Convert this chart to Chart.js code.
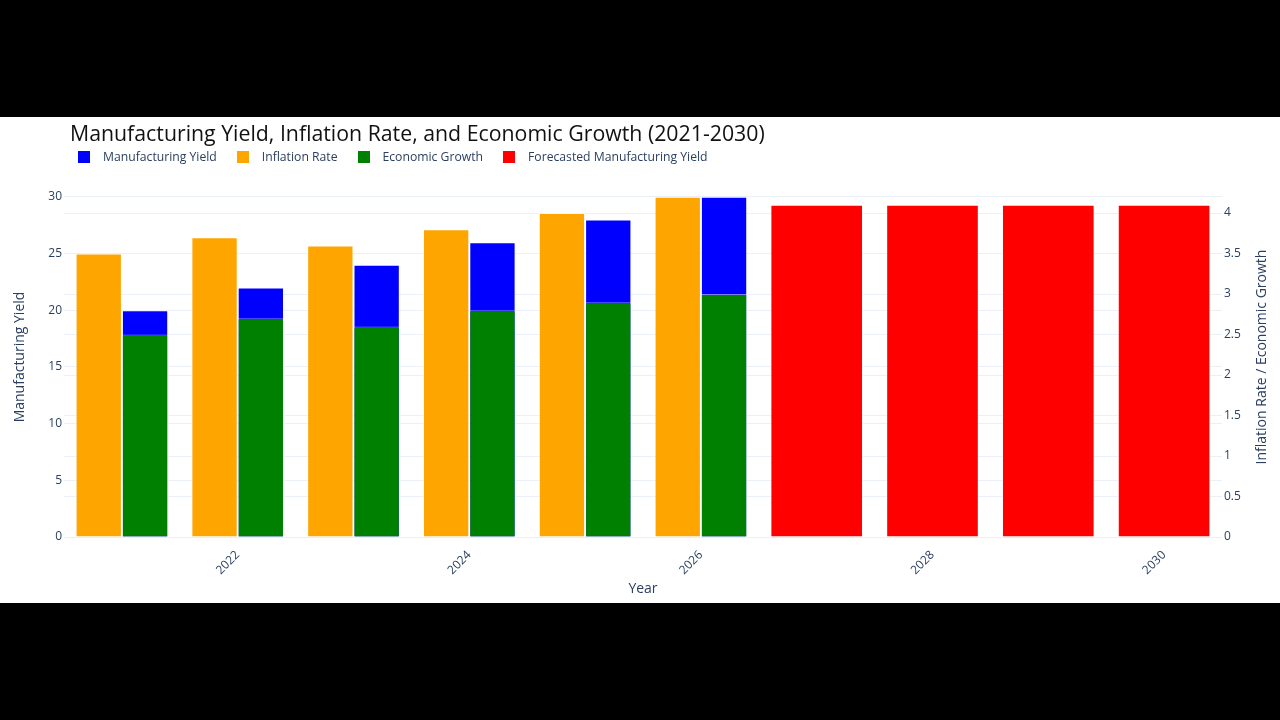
<!DOCTYPE html>
<html>
<head>
<meta charset="utf-8">
<script src="https://cdn.jsdelivr.net/npm/chart.js@4"></script>
<style>
  body { margin: 0; background: #000; width: 1280px; height: 720px; overflow: hidden; font-family: "Open Sans", sans-serif; }
  #panel { position: absolute; left: 0; top: 117px; width: 1280px; height: 486px; background: #fff; }
  #chart { position: absolute; left: 0; top: 0; }
  #title { position: absolute; left: 70px; top: 3px; font-size: 21.3px; line-height: 26px; color: #111; white-space: nowrap; }
  #legend { position: absolute; left: 78px; top: 32px; display: flex; font-size: 12.2px; line-height: 16px; color: #2a3f5f; white-space: nowrap; }
  .item { display: flex; align-items: center; margin-right: 20px; }
  .box { width: 12px; height: 12px; margin-right: 13px; }
</style>
</head>
<body>
<div id="panel">
  <canvas id="chart" width="1280" height="486"></canvas>
  <div id="title">Manufacturing Yield, Inflation Rate, and Economic Growth (2021-2030)</div>
  <div id="legend"></div>
</div>
<script>
var years = ['2021', '2022', '2023', '2024', '2025', '2026', '2027', '2028', '2029', '2030'];
var manufacturingYield = [20, 22, 24, 26, 28, 30, null, null, null, null];
var inflationRate = [3.5, 3.7, 3.6, 3.8, 4.0, 4.2, null, null, null, null];
var economicGrowth = [2.5, 2.7, 2.6, 2.8, 2.9, 3.0, null, null, null, null];
var forecastYield = [null, null, null, null, null, null, 29.3, 29.3, 29.3, 29.3];

// axis ranges (autorange in the original leaves a little headroom above the tallest bar)
var leftMax = 31.75;
var rightMax = 4.445;

var seriesNames = ['Manufacturing Yield', 'Inflation Rate', 'Economic Growth', 'Forecasted Manufacturing Yield'];
var seriesColors = ['blue', 'orange', 'green', 'red'];

var leftTitle = 'Manufacturing Yield';
var rightTitle = 'Inflation Rate / Economic Growth';
var xTitle = 'Year';

var textColor = '#2a3f5f';
var gridColor = '#ebf0f8';

// legend (same order as the original)
var legend = document.getElementById('legend');
for (var i = 0; i < seriesNames.length; i++) {
    var item = document.createElement('div');
    item.className = 'item';
    item.innerHTML = '<span class="box" style="background:' + seriesColors[i] + '"></span><span>' + seriesNames[i] + '</span>';
    legend.appendChild(item);
}

// right axis title reads bottom-to-top like the left one
var rightTitlePlugin = {
    id: 'rightTitle',
    afterDraw: function(chart) {
        var ctx = chart.ctx;
        var area = chart.chartArea;
        ctx.save();
        ctx.translate(chart.scales.y1.right - 18, (area.top + area.bottom) / 2);
        ctx.rotate(-Math.PI / 2);
        ctx.font = '14px "Open Sans"';
        ctx.fillStyle = textColor;
        ctx.textAlign = 'center';
        ctx.textBaseline = 'middle';
        ctx.fillText(rightTitle, 0, 0);
        ctx.restore();
    }
};

var barBorder = 'rgba(255,255,255,0.5)';
var tickFont = { family: 'Open Sans', size: 12 };
var titleFont = { family: 'Open Sans', size: 14 };

var ctx = document.getElementById('chart').getContext('2d');
var myChart = new Chart(ctx, {
    type: 'bar',
    data: {
        labels: years,
        datasets: [{
            label: seriesNames[0],
            data: manufacturingYield,
            backgroundColor: seriesColors[0],
            yAxisID: 'y',
            stack: 'b',
            order: 2
        }, {
            label: seriesNames[1],
            data: inflationRate,
            backgroundColor: seriesColors[1],
            yAxisID: 'y1',
            stack: 'a',
            order: 0
        }, {
            label: seriesNames[2],
            data: economicGrowth,
            backgroundColor: seriesColors[2],
            yAxisID: 'y1',
            stack: 'b',
            order: 1
        }, {
            label: seriesNames[3],
            data: forecastYield,
            backgroundColor: seriesColors[3],
            yAxisID: 'y',
            order: 3
        }]
    },
    options: {
        responsive: false,
        animation: false,
        layout: { padding: { top: 60, left: 0, right: 0, bottom: 0 } },
        datasets: {
            bar: {
                skipNull: true,
                categoryPercentage: 0.8,
                barPercentage: 1,
                borderWidth: 1,
                borderColor: barBorder
            }
        },
        plugins: {
            legend: { display: false },
            title: { display: false },
            tooltip: { enabled: false }
        },
        scales: {
            x: {
                grid: { display: false },
                border: { display: false },
                ticks: {
                    autoSkip: false,
                    minRotation: 45,
                    maxRotation: 45,
                    color: textColor,
                    font: tickFont,
                    callback: function(value, index) {
                        return Number(years[index]) % 2 === 0 ? years[index] : '';
                    }
                },
                title: { display: true, text: xTitle, color: textColor, font: titleFont, padding: { top: 0, bottom: 6 } },
                afterFit: function(scale) { scale.height = 66; }
            },
            y: {
                position: 'left',
                min: 0,
                max: leftMax,
                ticks: { stepSize: 5, includeBounds: false, padding: 2, color: textColor, font: tickFont },
                grid: { color: gridColor, drawTicks: false },
                border: { display: false },
                title: { display: true, text: leftTitle, color: textColor, font: titleFont, padding: { top: 12, bottom: 0 } },
                afterFit: function(scale) { scale.width = 64; }
            },
            y1: {
                position: 'right',
                min: 0,
                max: rightMax,
                ticks: {
                    stepSize: 0.5,
                    includeBounds: false,
                    padding: 2,
                    color: textColor,
                    font: tickFont,
                    callback: function(value) { return String(value); }
                },
                grid: { color: gridColor, drawTicks: false },
                border: { display: false },
                afterFit: function(scale) { scale.width = 58; }
            }
        }
    },
    plugins: [rightTitlePlugin]
});
</script>
</body>
</html>
